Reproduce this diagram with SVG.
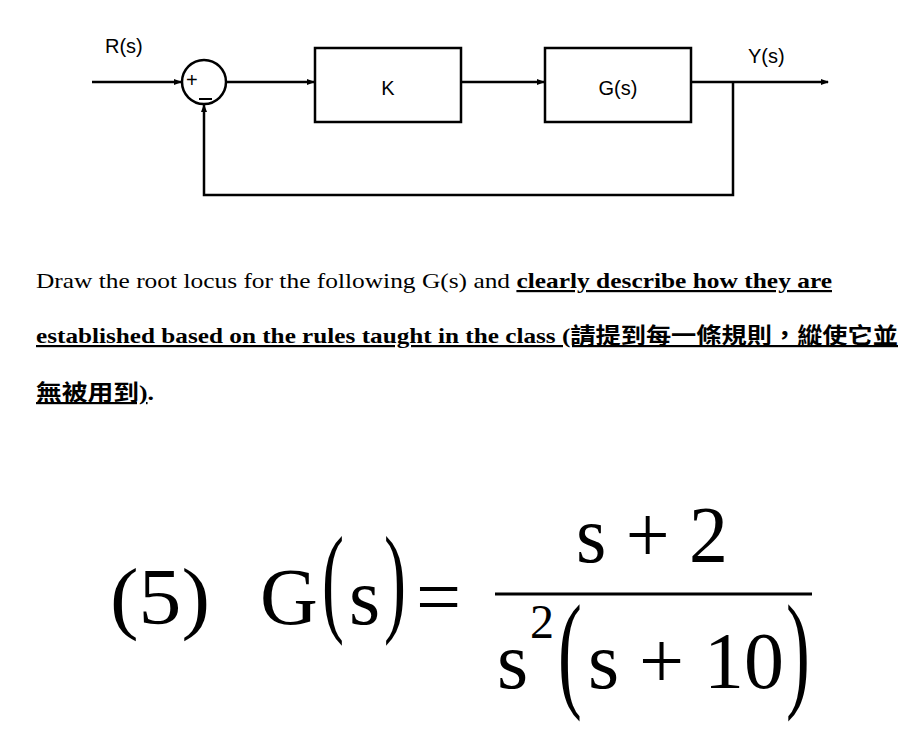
<svg xmlns="http://www.w3.org/2000/svg" width="919" height="735" viewBox="0 0 919 735">
<defs>
<marker id="ar" markerWidth="8" markerHeight="8" refX="7" refY="4" orient="auto" markerUnits="userSpaceOnUse"><path d="M0,1 L8,4 L0,7 z" fill="#000"/></marker>
<style>
.ln{stroke:#000;stroke-width:2.5;fill:none}
.bx{stroke:#000;stroke-width:2.5;fill:#fff}
.sf{font-family:"Liberation Sans",Arial,sans-serif;fill:#000}
.tm{font-family:"Liberation Serif","Noto Sans CJK TC",serif;fill:#000;font-size:22px}
.eq{font-family:"Liberation Serif",serif;fill:#000}
</style>
</defs>
<rect width="919" height="735" fill="#fff"/>
<g id="connectors">
<line class="ln" x1="92" y1="82" x2="181" y2="82" marker-end="url(#ar)"/>
<line class="ln" x1="226" y1="82" x2="314" y2="82" marker-end="url(#ar)"/>
<line class="ln" x1="461" y1="82" x2="544" y2="82" marker-end="url(#ar)"/>
<line class="ln" x1="691" y1="82" x2="828" y2="82" marker-end="url(#ar)"/>
<polyline class="ln" points="733,82 733,195 204,195 204,105" marker-end="url(#ar)"/>
</g>
<g id="sum">
<circle cx="204" cy="82" r="22" class="bx"/>
<text x="186" y="87" class="sf" font-size="20">+</text>
<line x1="199" y1="99" x2="212" y2="99" stroke="#000" stroke-width="2"/>
</g>
<g id="K"><rect x="315" y="48" width="146" height="74" class="bx"/><text x="388" y="95" class="sf" font-size="20" text-anchor="middle">K</text></g>
<g id="G"><rect x="545" y="48" width="146" height="74" class="bx"/><text x="618" y="95" class="sf" font-size="20" text-anchor="middle">G(s)</text></g>
<text x="105" y="53" class="sf" font-size="20">R(s)</text>
<text x="748" y="63" class="sf" font-size="20">Y(s)</text>
<text x="36" y="288" class="tm" textLength="796" lengthAdjust="spacingAndGlyphs">Draw the root locus for the following G(s) and <tspan font-weight="bold" text-decoration="underline">clearly describe how they are </tspan></text>
<text x="36" y="343" class="tm" font-weight="bold" text-decoration="underline" textLength="862" lengthAdjust="spacingAndGlyphs">established based on the rules taught in the class (請提到每一條規則，縱使它並</text>
<text x="36" y="400" class="tm" font-weight="bold" textLength="118" lengthAdjust="spacingAndGlyphs"><tspan text-decoration="underline">無被用到)</tspan>.</text>
<g id="equation" class="eq">
<text x="110" y="624" font-size="80" textLength="100" lengthAdjust="spacingAndGlyphs">(5)</text>
<text x="260" y="624" font-size="80">G</text>
<text transform="translate(322 620) scale(0.55 1)" font-size="120">(</text>
<text x="349" y="624" font-size="80">s</text>
<text transform="translate(384 620) scale(0.55 1)" font-size="120">)</text>
<text x="416" y="624" font-size="80">=</text>
<line x1="495" y1="594" x2="812" y2="594" stroke="#000" stroke-width="3"/>
<text x="576" y="562" font-size="80" textLength="152" lengthAdjust="spacingAndGlyphs">s + 2</text>
<text x="497" y="688" font-size="80">s</text>
<text x="530" y="638" font-size="48">2</text>
<text transform="translate(558 694) scale(0.55 1)" font-size="130">(</text>
<text x="588" y="688" font-size="80" textLength="196" lengthAdjust="spacingAndGlyphs">s + 10</text>
<text transform="translate(786 694) scale(0.55 1)" font-size="130">)</text>
</g>
</svg>
